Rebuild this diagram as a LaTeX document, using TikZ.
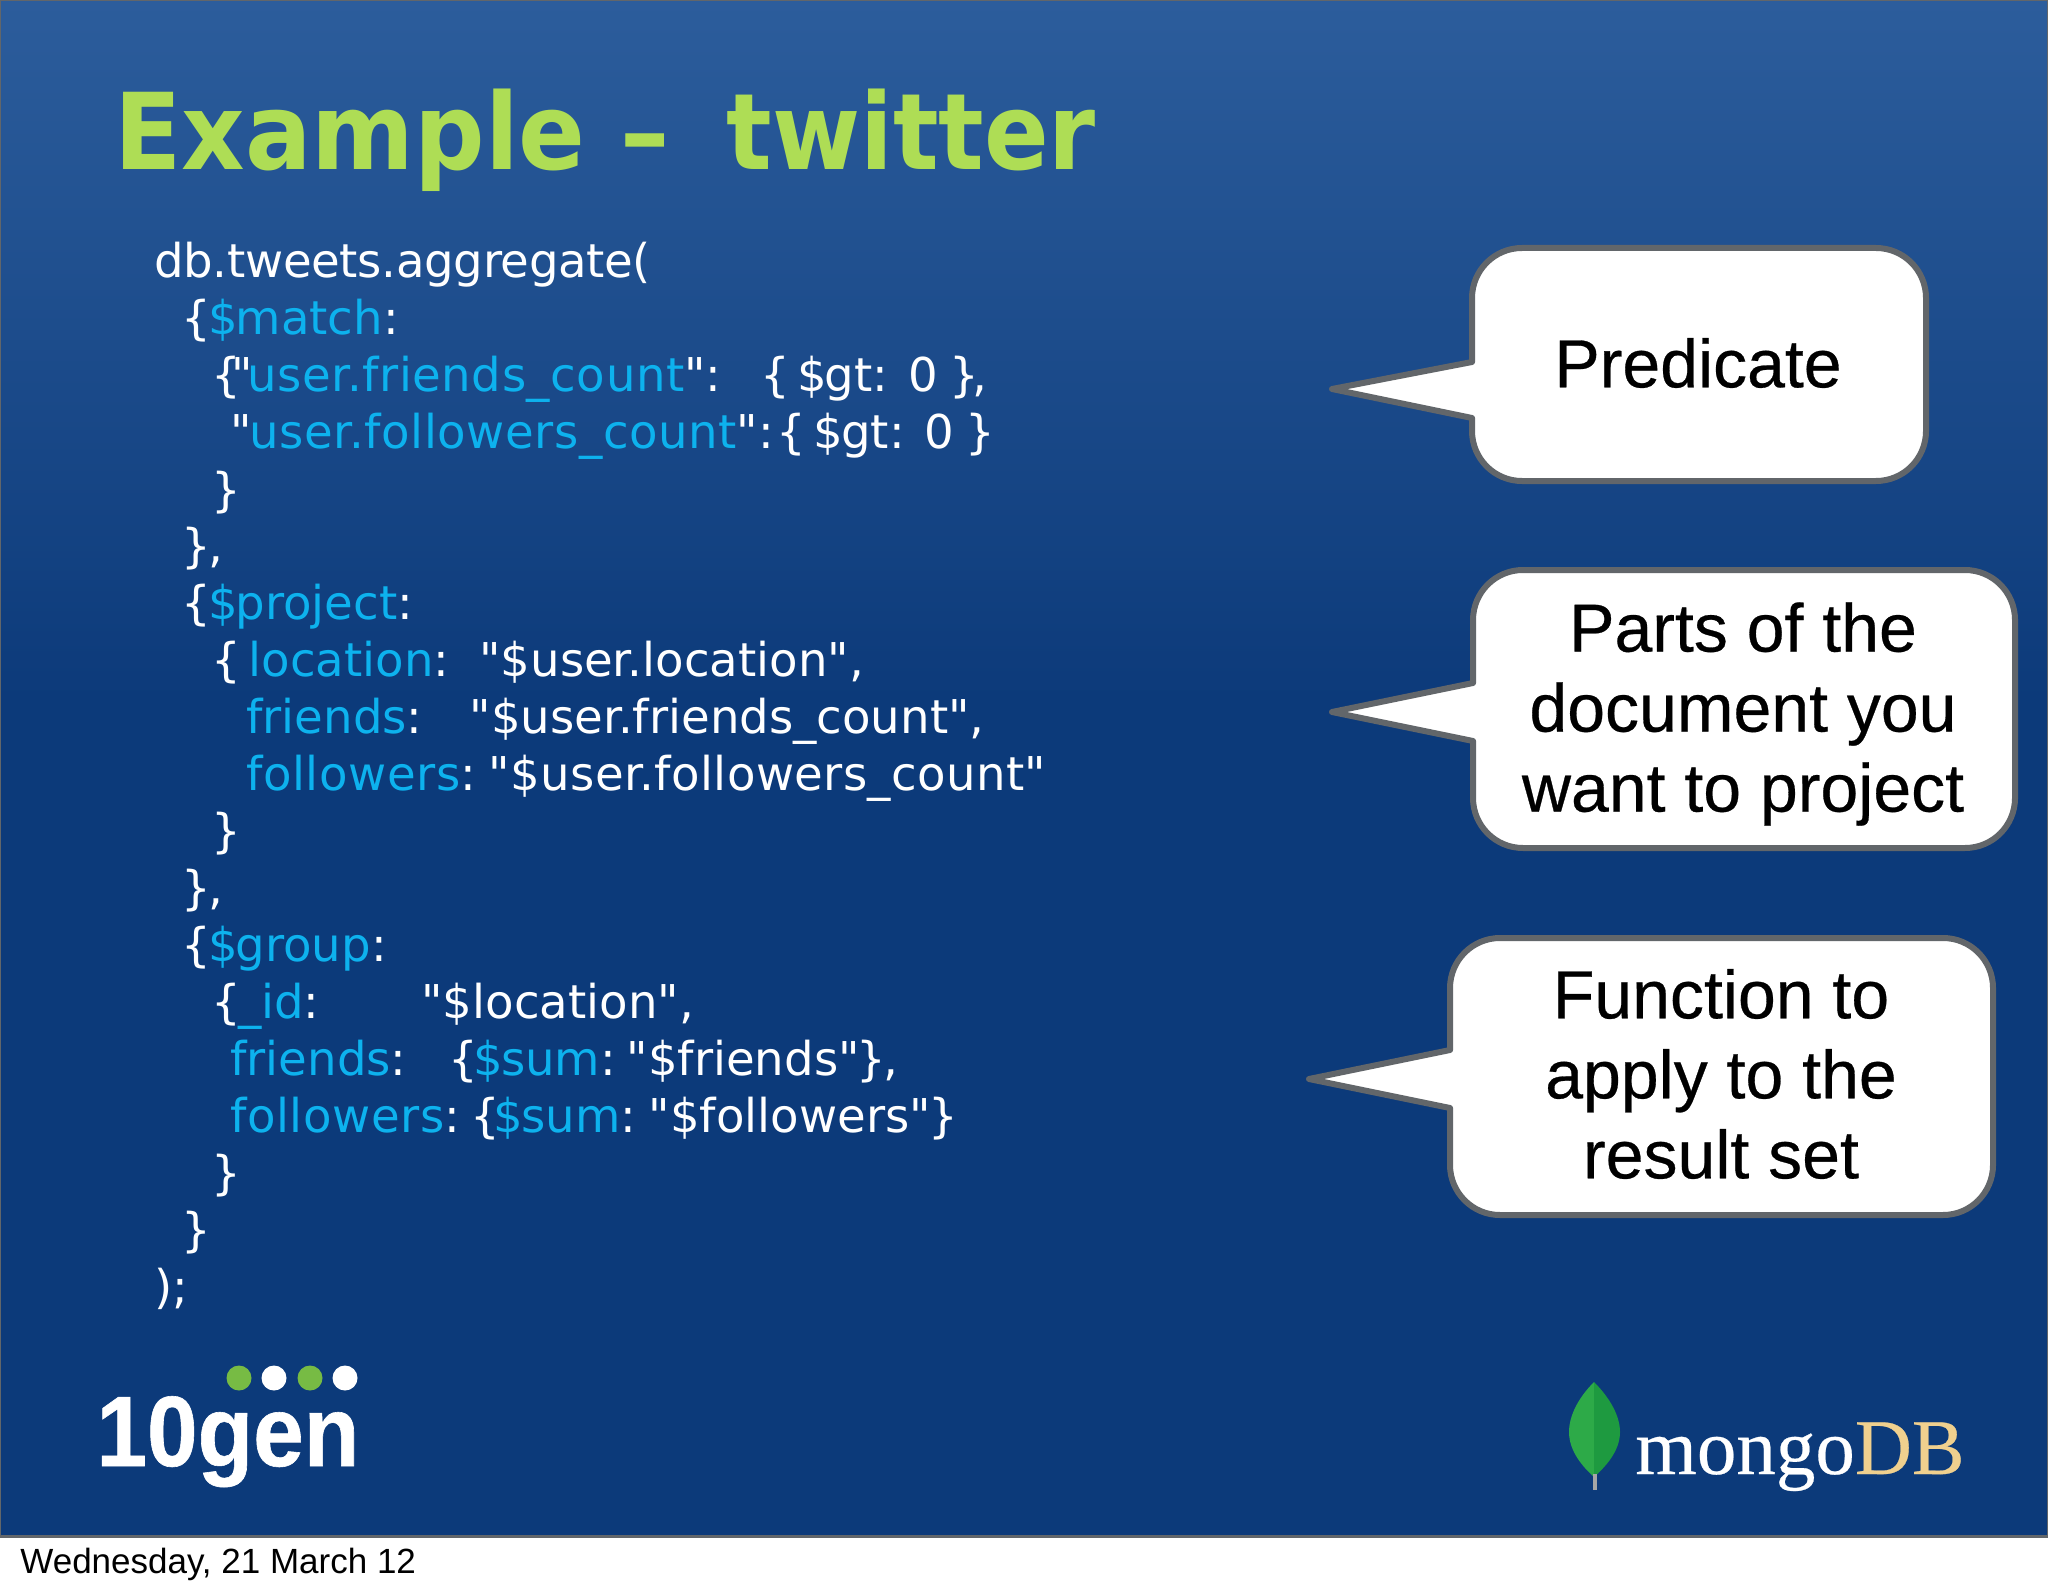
\documentclass[tikz,border=0pt]{standalone}
\usepackage{fontspec}
\setmainfont{Liberation Sans}
\newfontfamily\codefont{DejaVu Sans}
\newfontfamily\titlefont[FakeStretch=0.93]{DejaVu Sans Bold}
\newfontfamily\titlefontb[FakeStretch=0.9]{DejaVu Sans Bold}
\newfontfamily\genfont[FakeStretch=0.91,FakeBold=0.6]{Liberation Sans Bold}
\newfontfamily\mongofont[FakeBold=0.3]{Liberation Serif}
\newfontfamily\bubblefont[FakeBold=0.4]{Liberation Sans}
\definecolor{slidetop}{HTML}{2C5D9C}
\definecolor{slidebot}{HTML}{0C3A7A}
\definecolor{titlegreen}{HTML}{AEDD55}
\definecolor{keycyan}{HTML}{0DB2EE}
\definecolor{bubbleline}{HTML}{62666A}
\definecolor{dotgreen}{HTML}{77BB44}
\definecolor{dbgold}{HTML}{F0D08E}
\definecolor{leafa}{HTML}{2DAA48}
\definecolor{leafb}{HTML}{1E9A40}
\newcommand{\kw}[1]{\textcolor{keycyan}{#1}}
\newcommand{\kwl}[1]{\textcolor{keycyan}{\addfontfeature{LetterSpace=1.2}#1}}
\newcommand{\gap}[1]{\hspace*{#1pt}}
\newcommand{\ob}{\kern-1.5pt\{\kern-1.5pt}
\newcommand{\cb}{\kern-1.5pt\}\kern-1.5pt}
\newcommand{\dol}{\$\kern-1pt}
\newcommand{\qk}{"\kern-1pt}
\tikzset{
  code/.style={anchor=base west, inner sep=0pt, text=white, font=\codefont\fontsize{23.3}{27}\selectfont},
  bubble/.style={draw=bubbleline, fill=white, line width=3pt, line join=round},
  bubbletext/.style={inner sep=0pt, align=center, text=black, font=\bubblefont\fontsize{34}{40}\selectfont},
  dot/.style={circle, inner sep=0pt, minimum size=12.5pt}
}
\begin{document}
\begin{tikzpicture}[x=0.5pt, y=-0.5pt]
\useasboundingbox (0,0) rectangle (2048,1593);

% slide
\fill[white] (0,0) rectangle (2048,1593);
\fill[slidebot] (0,700) rectangle (2048,1536);
\shade[top color=slidetop, bottom color=slidebot] (0,0) rectangle (2048,700);
\draw[bubbleline, line width=1pt] (0,1536) -- (0,0) -- (2048,0) -- (2048,1536);
\draw[bubbleline, line width=1.5pt] (0,1536) -- (2048,1536);

% title
\node[anchor=base west, inner sep=0pt, text=titlegreen, font=\titlefont\fontsize{53}{60}\selectfont] (title) at (114,170) {Example –\kern12pt{\titlefontb\fontsize{53}{60}\selectfont\ twitter}};

% code
\node[code] (L1) at (154,278) {\addfontfeature{LetterSpace=-0.7}db.tweets.aggregate(};
\node[code] (L2) at (184,335) {\ob\kw{\dol match}:};
\node[code] (L3) at (214,392) {\ob\kern-3.5pt"\kern-2.5pt\kwl{user.friends\_count}":\gap{21}\ob\kern5pt\dol gt: 0 \cb\kern-2pt,};
\node[code] (L4) at (230,449) {\qk\kwl{user.followers\_count}":\kern-4.5pt\ \ob\kern5pt\dol gt: 0 \cb};
\node[code] (L5) at (214,506) {\cb};
\node[code] (L6) at (184,562) {\cb,};
\node[code] (L7) at (184,619) {\ob\kw{\dol project}:};
\node[code] (L8) at (214,676) {\ob\kern-2pt\ \kw{location}:\gap{15}"\$user.location",};
\node[code] (L9) at (246,733) {\kw{friends}:\gap{23.5}"\$user.friends\_count",};
\node[code] (L10) at (246,790) {\kwl{followers}:\kern-1pt\ {\addfontfeature{LetterSpace=0.8}"\$user.followers\_count"}};
\node[code] (L11) at (214,847) {\cb};
\node[code] (L12) at (184,904) {\cb,};
\node[code] (L13) at (184,961) {\ob\kw{\dol group}:};
\node[code] (L14) at (214,1018) {\ob\kw{\_id}:\gap{51}"\$location",};
\node[code] (L15) at (230,1075) {\kw{friends}:\gap{22.5}\ob\kern-1pt\kw{\dol sum}:\kern-2pt\ "\$friends"\cb,};
\node[code] (L16) at (230,1132) {\kwl{followers}:\kern-0.5pt\ \ob\kern-2pt\kw{\dol sum}:\kern-1pt\ "\$followers"\cb};
\node[code] (L17) at (214,1189) {\cb};
\node[code] (L18) at (184,1246) {\cb};
\node[code] (L19) at (154,1303) {);};

% callouts
\draw[bubble] (1332,389) -- (1472,362) [rounded corners=25pt] -- (1472,248) -- (1926,248) -- (1926,481) -- (1472,481) [sharp corners] -- (1472,418) -- cycle;
\draw[bubble] (1332,712) -- (1473,683) [rounded corners=25pt] -- (1473,570) -- (2015,570) -- (2015,848) -- (1473,848) [sharp corners] -- (1473,741) -- cycle;
\draw[bubble] (1309,1079) -- (1450,1050) [rounded corners=25pt] -- (1450,938) -- (1993,938) -- (1993,1215) -- (1450,1215) [sharp corners] -- (1450,1108) -- cycle;

\node[bubbletext] (predicate) at (1698,363) {Predicate};
\node[bubbletext] (parts) at (1743,714) {Parts of the\\document you\\want to project};
\node[bubbletext] (function) at (1721,1074) {Function to\\apply to the\\result set};

% 10gen logo
\node[anchor=base west, inner sep=0pt, text=white, font=\genfont\fontsize{50}{56}\selectfont] (gen) at (96,1466) {10gen};
\node[dot, fill=dotgreen] (d1) at (239,1378) {};
\node[dot, fill=white] (d2) at (274,1378) {};
\node[dot, fill=dotgreen] (d3) at (310,1378) {};
\node[dot, fill=white] (d4) at (345,1378) {};

% mongodb logo
\fill[leafa] (1594,1382) .. controls (1578,1398) and (1569,1416) .. (1569,1432) .. controls (1569,1452) and (1584,1468) .. (1594,1477) -- cycle;
\fill[leafb] (1594,1382) .. controls (1610,1398) and (1620,1416) .. (1620,1432) .. controls (1620,1452) and (1604,1468) .. (1594,1477) -- cycle;
\draw[gray!70!white, line width=2pt] (1595,1474) -- (1595,1490);
\node[anchor=base west, inner sep=0pt, text=white, font=\mongofont\fontsize{39.5}{44}\selectfont] (mongo) at (1635,1474) {mongo\textcolor{dbgold}{DB}};

% date
\node[anchor=base west, inner sep=0pt, text=black, font=\fontsize{17.5}{20}\selectfont] (date) at (20,1573) {Wednesday, 21 March 12};
\end{tikzpicture}
\end{document}
